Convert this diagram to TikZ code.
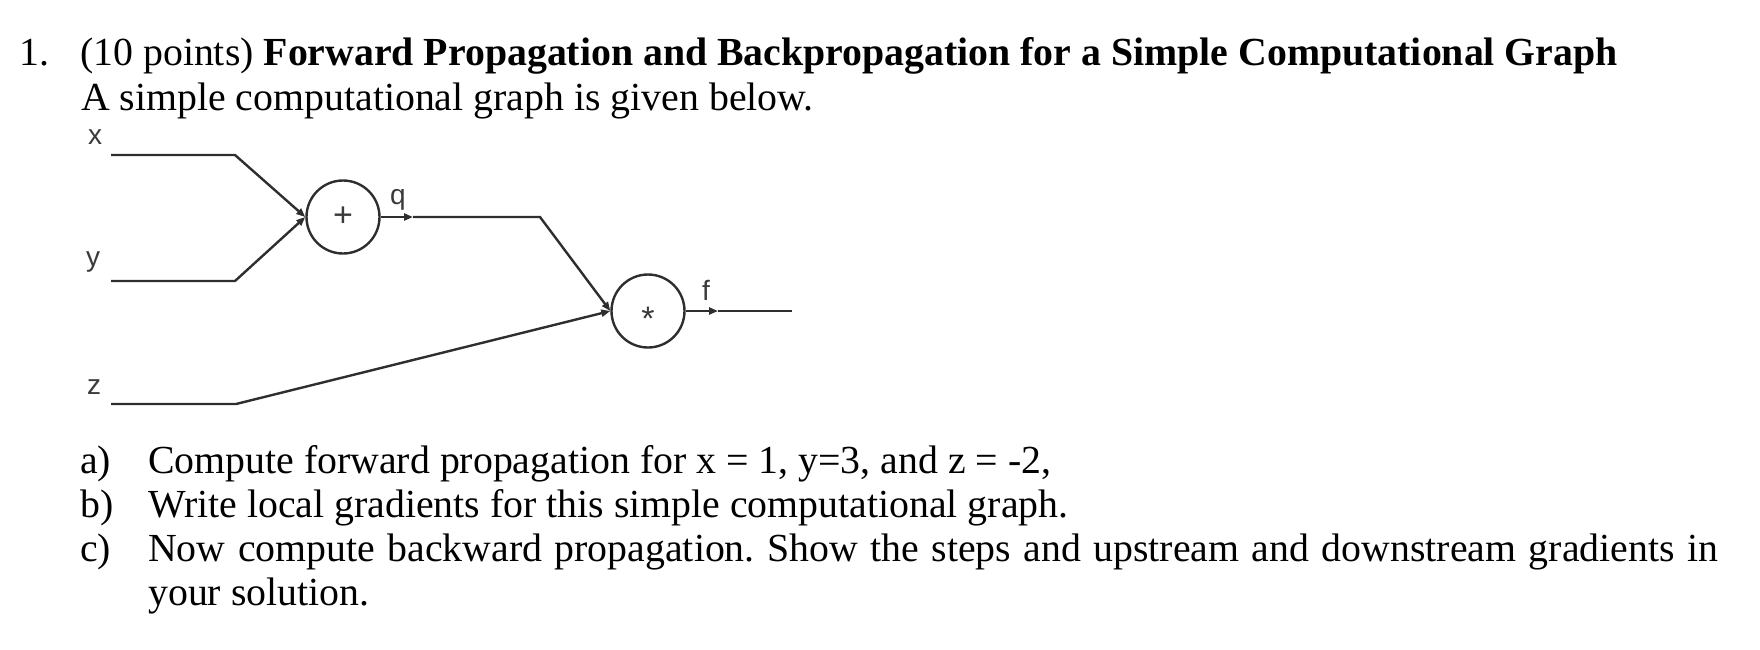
\documentclass[tikz,border=0pt]{standalone}
\usepackage{fontspec}
\setmainfont{Liberation Serif}
\newfontfamily\lsans{Liberation Sans}
\usetikzlibrary{arrows.meta}
\definecolor{gline}{HTML}{2E2E2E}
\definecolor{glbl}{HTML}{3A3A3A}
\frenchspacing
\begin{document}
\begin{tikzpicture}[x=1pt,y=-1pt,
  txt/.style={inner sep=0pt, anchor=base west, font=\fontsize{39.8}{44}\selectfont},
  opnode/.style={circle, draw=gline, line width=2.4pt, minimum size=73pt, inner sep=0pt},
  lbl/.style={inner sep=0pt, font=\lsans\fontsize{28}{30}\selectfont, text=glbl},
  opsym/.style={inner sep=0pt, font=\lsans\fontsize{34}{36}\selectfont, text=glbl},
  wire/.style={draw=gline, line width=2.4pt},
  tip/.style={-{Triangle[length=9pt,width=7pt]}},
]
\useasboundingbox (0,0) rectangle (1760,649);

% header text
\node[txt] (num) at (19,65) {1.};
\node[txt] (title) at (80,65) {(10 points) \textbf{Forward Propagation and Backpropagation for a Simple Computational Graph}};
\node[txt] (intro) at (81,110) {A simple computational graph is given below.};

% graph
\node[opnode] (plus) at (343,217) {};
\node[opsym] (plussym) at (plus.center) {+};
\node[opnode] (mult) at (648,311) {};
\node[opsym, yshift=-8pt] (multsym) at (mult.center) {*};

\node[lbl] (lx) at (95,137) {x};
\node[lbl] (ly) at (93,262) {y};
\node[lbl] (lz) at (94,387) {z};
\node[lbl] (lq) at (398,200) {q};
\node[lbl] (lf) at (706,290) {f};

\coordinate (x0) at (111,155);
\coordinate (x1) at (235,155);
\coordinate (y0) at (111,281);
\coordinate (y1) at (235,281);
\coordinate (z0) at (111,404);
\coordinate (z1) at (236,404);
\coordinate (qa) at (413,217);
\coordinate (q1) at (540,217);
\coordinate (fa) at (718,311);
\coordinate (f1) at (792,311);

\draw[wire, tip] (x0) -- (x1) -- (plus.west);
\draw[wire, tip] (y0) -- (y1) -- (plus.west);
\draw[wire, tip] (plus.east) -- (qa);
\draw[wire, tip] (qa) -- (q1) -- (mult.west);
\draw[wire, tip] (z0) -- (z1) -- (mult.west);
\draw[wire, tip] (mult.east) -- (fa);
\draw[wire] (fa) -- (f1);

% questions
\node[txt] (la) at (80,473) {a)};
\node[txt] (ta) at (148,473) {Compute forward propagation for x = 1, y=3, and z = -2,};
\node[txt] (lb) at (80,517) {b)};
\node[txt] (tb) at (148,517) {Write local gradients for this simple computational graph.};
\node[txt] (lc) at (80,561) {c)};
\node[txt] (tc) at (148,561) {\parbox[t]{1570pt}{Now compute backward propagation. Show the steps and upstream and downstream gradients in\linebreak your solution.}};
\end{tikzpicture}
\end{document}
